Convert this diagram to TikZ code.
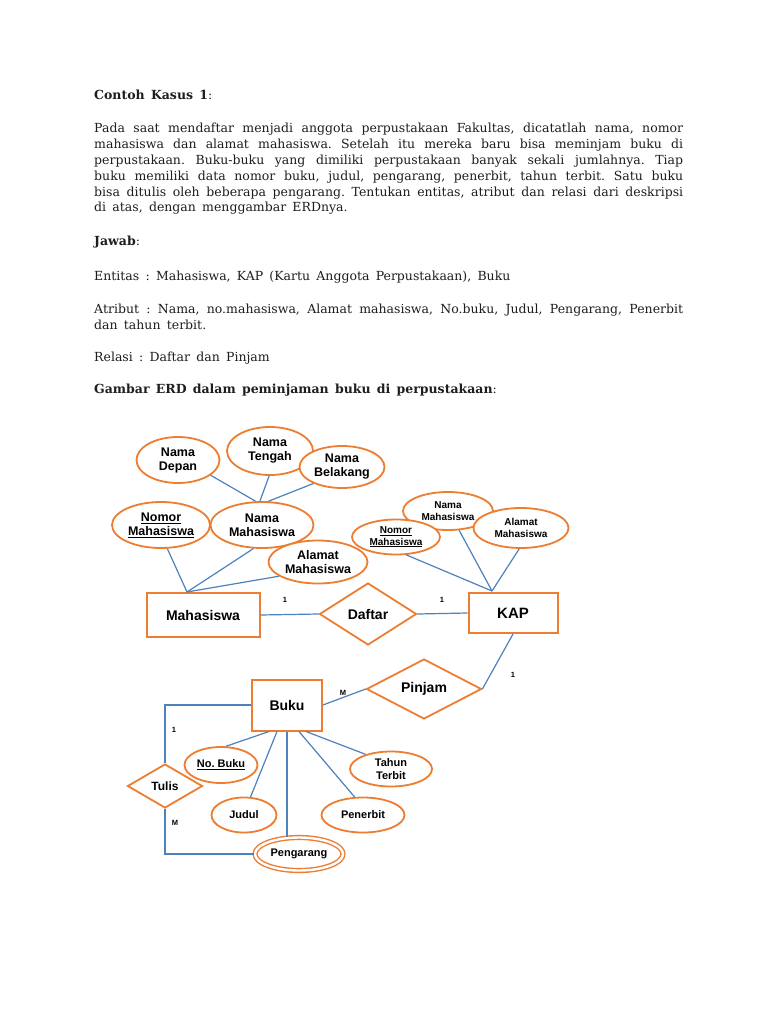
\documentclass[tikz,border=0pt]{standalone}
\usepackage{fontspec}
\setmainfont{DejaVu Serif}
\newfontfamily\erdfont{Liberation Sans}
\usetikzlibrary{shapes.geometric}
\definecolor{erdorange}{RGB}{237,125,49}
\definecolor{erdblue}{RGB}{79,129,189}
\definecolor{bodytext}{RGB}{30,30,30}
\newcommand{\bodysize}{\fontsize{12.5}{15.8}\selectfont\spaceskip=0.5em plus 0.6em minus 0.15em}
\newcommand{\jline}[1]{\makebox[589pt][s]{#1}}
\frenchspacing

\begin{document}
\begin{tikzpicture}[x=1pt, y=-1pt,
    txt/.style={anchor=base west, inner sep=0pt, text=bodytext, font=\bodysize},
    ent/.style={rectangle, draw=erdorange, line width=2pt, fill=white,
                inner sep=0pt, font=\erdfont\bfseries\fontsize{14}{16}\selectfont},
    attr/.style={ellipse, draw=erdorange, line width=1.8pt, fill=white, inner sep=0pt,
                 align=center, font=\erdfont\bfseries\fontsize{12.5}{14}\selectfont},
    sattr/.style={attr, font=\erdfont\bfseries\fontsize{10}{11.5}\selectfont},
    battr/.style={attr, font=\erdfont\bfseries\fontsize{11}{12.5}\selectfont},
    rel/.style={diamond, draw=erdorange, line width=1.8pt, fill=white, inner sep=0pt,
                font=\erdfont\bfseries\fontsize{14}{16}\selectfont},
    lnk/.style={draw=erdblue, line width=1.2pt},
    card/.style={inner sep=0pt, font=\erdfont\bfseries\fontsize{7.5}{8}\selectfont}
]
    \useasboundingbox[fill=white] (0,0) rectangle (768,1024);

    % text of the case
    \node[txt] (judulkasus) at (94,100) {\textbf{Contoh Kasus 1}:};
    \node[txt] (soal1) at (94,133) {\jline{Pada saat mendaftar menjadi anggota perpustakaan Fakultas, dicatatlah nama, nomor}};
    \node[txt] (soal2) at (94,148.8) {\jline{mahasiswa dan alamat mahasiswa. Setelah itu mereka baru bisa meminjam buku di}};
    \node[txt] (soal3) at (94,164.6) {\jline{perpustakaan. Buku-buku yang dimiliki perpustakaan banyak sekali jumlahnya. Tiap}};
    \node[txt] (soal4) at (94,180.4) {\jline{buku memiliki data nomor buku, judul, pengarang, penerbit, tahun terbit. Satu buku}};
    \node[txt] (soal5) at (94,196.2) {\jline{bisa ditulis oleh beberapa pengarang. Tentukan entitas, atribut dan relasi dari deskripsi}};
    \node[txt] (soal6) at (94,212) {di atas, dengan menggambar ERDnya.};
    \node[txt] (jawab) at (94,245) {\textbf{Jawab}:};
    \node[txt] (entitas) at (94,280.7) {Entitas : Mahasiswa, KAP (Kartu Anggota Perpustakaan), Buku};
    \node[txt] (atribut1) at (94,313) {\jline{Atribut : Nama, no.mahasiswa, Alamat mahasiswa, No.buku, Judul, Pengarang, Penerbit}};
    \node[txt] (atribut2) at (94,329) {dan tahun terbit.};
    \node[txt] (relasi) at (94,361) {Relasi : Daftar dan Pinjam};
    \node[txt] (gambar) at (94,393) {\textbf{Gambar ERD dalam peminjaman buku di perpustakaan}:};

    % ERD: mahasiswa
    \node[attr, minimum width=83pt, minimum height=46pt] (depan) at (178,460) {Nama\\Depan};
    \node[attr, minimum width=86pt, minimum height=48pt] (tengah) at (270,451) {Nama\\Tengah};
    \node[attr, minimum width=85pt, minimum height=42pt] (belakang) at (342,467) {Nama\\Belakang};
    \node[attr, minimum width=98pt, minimum height=46pt] (nomormhs) at (161,525) {\underline{Nomor}\\\underline{Mahasiswa}};
    \node[attr, minimum width=103pt, minimum height=46pt] (namamhs) at (262,525) {Nama\\Mahasiswa};
    \node[attr, minimum width=99pt, minimum height=43pt] (alamatmhs) at (318,562) {Alamat\\Mahasiswa};
    \node[ent, minimum width=113pt, minimum height=44pt] (mhs) at (203,615) {Mahasiswa};
    \coordinate (mhsjoin) at (187,592);

    % ERD: KAP
    \node[rel, minimum width=97pt, minimum height=62pt] (daftar) at (368,614) {Daftar};
    \node[ent, minimum width=89pt, minimum height=40pt, font=\erdfont\bfseries\fontsize{15}{17}\selectfont] (kap) at (513,613) {KAP};
    \node[sattr, minimum width=90pt, minimum height=38pt] (namakap) at (448,511) {Nama\\Mahasiswa};
    \node[sattr, minimum width=88pt, minimum height=35pt] (nomorkap) at (396,537) {\underline{Nomor}\\\underline{Mahasiswa}};
    \node[sattr, minimum width=95pt, minimum height=40pt] (alamatkap) at (521,528) {Alamat\\Mahasiswa};
    \coordinate (kapjoin) at (492,591);

    % ERD: buku
    \node[rel, minimum width=115pt, minimum height=60pt] (pinjam) at (424,689) {Pinjam};
    \node[ent, minimum width=70pt, minimum height=51pt] (buku) at (287,705) {Buku};
    \node[rel, minimum width=75pt, minimum height=44pt, font=\erdfont\bfseries\fontsize{12}{14}\selectfont] (tulis) at (165,786) {Tulis};
    \node[battr, minimum width=73pt, minimum height=36pt] (nobuku) at (221,765) {\underline{No. Buku}};
    \node[battr, minimum width=65pt, minimum height=35pt] (judul) at (244,815) {Judul};
    \node[battr, minimum width=83pt, minimum height=35pt] (penerbit) at (363,815) {Penerbit};
    \node[battr, minimum width=82pt, minimum height=35pt] (tahun) at (391,769) {Tahun\\Terbit};
    \node[battr, minimum width=88pt, minimum height=33pt, double=white, double distance=2.4pt, line width=1.4pt] (pengarang) at (299,854) {Pengarang};

    % connectors
    \draw[lnk] (depan.-25) -- (namamhs.105);
    \draw[lnk] (tengah.-92) -- (namamhs.95);
    \draw[lnk] (belakang.-150) -- (namamhs.75);
    \draw[lnk] (nomormhs.-75) -- (mhsjoin);
    \draw[lnk] (namamhs.-110) -- (mhsjoin);
    \draw[lnk] (alamatmhs.-160) -- (mhsjoin);
    \draw[lnk] (mhs.east) -- (daftar.west);
    \draw[lnk] (daftar.east) -- (kap.west);
    \draw[lnk] (nomorkap.-60) -- (kapjoin);
    \draw[lnk] (namakap.-60) -- (kapjoin);
    \draw[lnk] (alamatkap.-95) -- (kapjoin);
    \draw[lnk] (kap.south) -- (pinjam.east);
    \draw[lnk] (buku.east) -- (pinjam.west);
    \draw[lnk] (buku.west) -| (tulis.north);
    \draw[lnk] (tulis.south) |- (pengarang.west);
    \draw[lnk] ([xshift=18pt]buku.south west) -- (nobuku.75);
    \draw[lnk] ([xshift=26pt]buku.south west) -- (judul.70);
    \draw[lnk] (buku.south) -- (buku.south |- pengarang.north);
    \draw[lnk] ([xshift=48pt]buku.south west) -- (penerbit.115);
    \draw[lnk] ([xshift=55pt]buku.south west) -- (tahun.150);

    % cardinalities
    \node[card] (c1) at (285,600) {1};
    \node[card] (c2) at (442,600) {1};
    \node[card] (c3) at (513,675) {1};
    \node[card] (c4) at (343,693) {M};
    \node[card] (c5) at (174,730) {1};
    \node[card] (c6) at (175,823) {M};
\end{tikzpicture}
\end{document}
